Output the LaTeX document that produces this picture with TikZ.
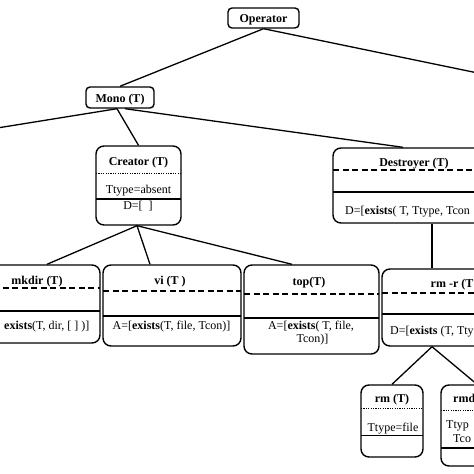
\documentclass[tikz,border=0pt]{standalone}
\usepackage{fontspec}
\setmainfont{Liberation Serif}
\begin{document}
\begin{tikzpicture}[x=1pt,y=-1pt,
  box/.style={draw, line width=1.4pt, rounded corners=8pt, inner sep=0pt},
  smallbox/.style={draw, line width=1.4pt, rounded corners=4pt, inner sep=0pt},
  conn/.style={line width=1.3pt},
  sepdash/.style={line width=1.3pt, dash pattern=on 6pt off 3.5pt},
  sepdot/.style={line width=1pt, dash pattern=on 1.2pt off 1.2pt},
  sepsolid/.style={line width=1.1pt},
  title/.style={font=\fontsize{12}{14}\selectfont\bfseries, anchor=base, inner sep=0pt},
  txt/.style={font=\fontsize{12}{14}\selectfont, anchor=base, inner sep=0pt},
  txtw/.style={txt, anchor=base west}]
\useasboundingbox (0,0) rectangle (474,474);
\clip (0,0) rectangle (474,474);

% boxes
\node[smallbox, minimum width=71pt, minimum height=20pt] (op) at (263.5,18) {};
\node[smallbox, minimum width=68pt, minimum height=21pt] (mono) at (120,97.5) {};
\node[box, minimum width=85pt, minimum height=79pt] (creator) at (138.5,185.5) {};
\node[box, minimum width=162pt, minimum height=75pt] (dest) at (414,185.5) {};
\node[box, minimum width=126pt, minimum height=78pt] (mkdir) at (37,304) {};
\node[box, minimum width=138pt, minimum height=81pt] (vi) at (172,305.5) {};
\node[box, minimum width=135pt, minimum height=89pt] (top) at (311.5,309.5) {};
\node[box, minimum width=152pt, minimum height=77pt] (rmr) at (458,307.5) {};
\node[box, minimum width=62pt, minimum height=72pt] (rm) at (392,421) {};
\node[box, minimum width=72pt, minimum height=81pt] (rmdir) at (477,425.5) {};

% connectors
\coordinate (opR) at (560,90);
\coordinate (monoL) at (-40,134);
\draw[conn] (op.south) -- (mono.north);
\draw[conn] (op.south) -- (opR);
\draw[conn] ([xshift=-3pt]mono.south) -- (monoL);
\draw[conn] ([xshift=-3pt]mono.south) -- (creator.north);
\draw[conn] ([xshift=5pt]mono.south) -- ([xshift=-11pt]dest.north);
\draw[conn] ([xshift=-1.5pt]creator.south) -- ([xshift=10pt]mkdir.north);
\draw[conn] ([xshift=-1.5pt]creator.south) -- ([xshift=-22pt]vi.north);
\draw[conn] ([xshift=-1.5pt]creator.south) -- ([xshift=-19.5pt]top.north);
\draw[conn] ([xshift=18pt]dest.south) -- ([xshift=-26pt]rmr.north);
\draw[conn] ([xshift=-26pt]rmr.south) -- (rm.north);
\draw[conn] ([xshift=-26pt]rmr.south) -- (rmdir.north);

% separators
\draw[sepdot] (96,173) -- (181,173);
\draw[sepsolid] (96,199) -- (181,199);
\draw[sepdash] (333,170) -- (495,170);
\draw[sepsolid] (333,192) -- (495,192);
\draw[sepdash] (-26,288) -- (100,288);
\draw[sepsolid] (-26,311) -- (100,311);
\draw[sepdash] (103,291) -- (241,291);
\draw[sepsolid] (103,316) -- (241,316);
\draw[sepdash] (244,294) -- (379,294);
\draw[sepsolid] (244,318) -- (379,318);
\draw[sepdash] (382,293) -- (534,293);
\draw[sepsolid] (382,314) -- (534,314);
\draw[sepdot] (361,408) -- (423,408);
\draw[sepsolid] (361,435.5) -- (423,435.5);
\draw[sepdot] (441,410) -- (513,410);
\draw[sepsolid] (441,448) -- (513,448);

% texts
\node[title] (t-op) at (263.5,22.5) {Operator};
\node[title] (t-mono) at (120,102.5) {Mono (T)};
\node[title] (t-cr) at (138.5,165) {Creator (T)};
\node[txt] (t-cr1) at (138.5,193) {Ttype=absent};
\node[txt] (t-cr2) at (138,209.5) {D=[\ \ ]};
\node[title] (t-de) at (414,166.5) {Destroyer (T)};
\node[txtw] (t-de1) at (345,214) {D=[\textbf{exists}( T, Ttype, Tcon};
\node[title] (t-mk) at (37,284) {mkdir (T)};
\node[txtw] (t-mk1) at (4,329) {\textbf{exists}(T, dir, [ ] )]};
\node[title] (t-vi) at (170,284) {vi (T )};
\node[txt] (t-vi1) at (171.5,329) {A=[\textbf{exists}(T, file, Tcon)]};
\node[title] (t-top) at (309,285) {top(T)};
\node[txt] (t-top1) at (311,329.5) {A=[\textbf{exists}( T, file,};
\node[txt] (t-top2) at (312.5,342) {Tcon)]};
\node[title, anchor=base west] (t-rmr) at (430.5,287.5) {rm -r (T};
\node[txtw] (t-rmr1) at (390,334) {D=[\textbf{exists} (T, Tty};
\node[title] (t-rm) at (392,402) {rm (T)};
\node[txt] (t-rm1) at (393,431.5) {Ttype=file};
\node[title, anchor=base west] (t-rd) at (453,402) {rmd};
\node[txtw] (t-rd1) at (446,428) {Ttyp};
\node[txtw] (t-rd2) at (453,442) {Tco};
\end{tikzpicture}
\end{document}
